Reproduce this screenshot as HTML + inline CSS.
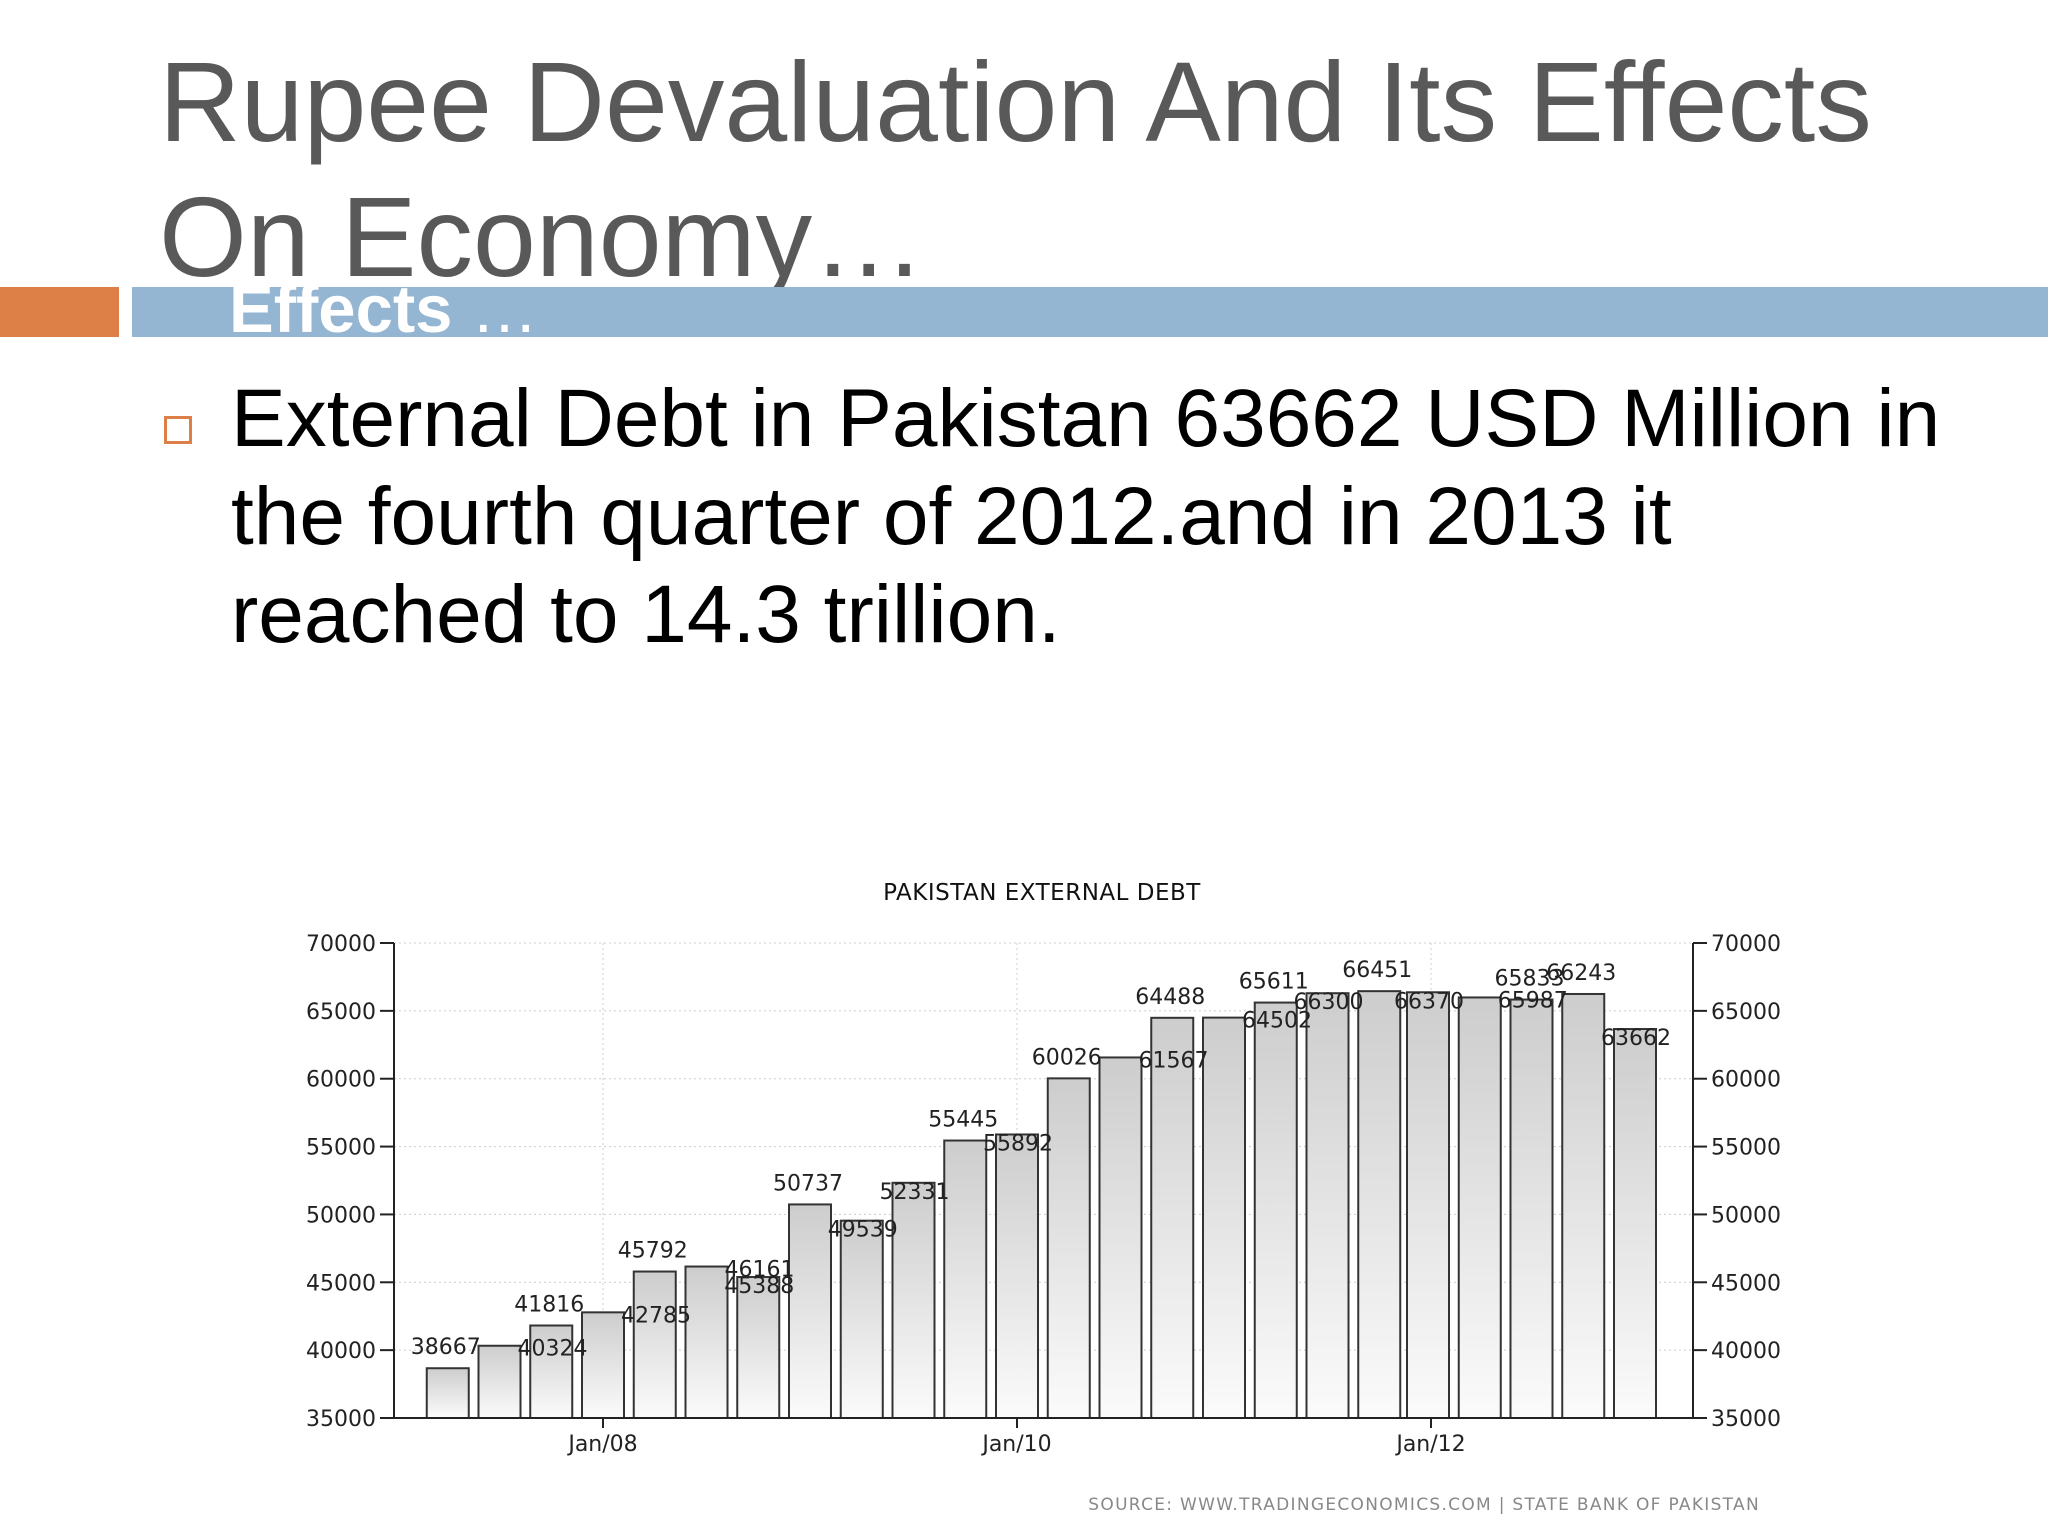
<!DOCTYPE html>
<html><head><meta charset="utf-8"><style>
body{margin:0;width:2048px;height:1536px;background:#fff;overflow:hidden;position:relative;font-family:"Liberation Sans",sans-serif}
.t{position:absolute;left:159px;color:#595959;font-size:113px;line-height:1;white-space:nowrap}
</style></head><body>
<div class="t" style="top:46px">Rupee Devaluation And Its Effects</div>
<div class="t" style="top:181px">On Economy…</div>
<div style="position:absolute;left:0;top:287px;width:119px;height:50px;background:#dd8047"></div>
<div style="position:absolute;left:132px;top:287px;width:1916px;height:50px;background:#94b6d2"></div>
<div style="position:absolute;left:229px;top:276px;color:#fff;font-weight:bold;font-size:67px;line-height:1;white-space:nowrap">Effects <span style="font-weight:normal">…</span></div>
<div style="position:absolute;left:164px;top:416px;width:28px;height:28px;border:3px solid #dd8047;box-sizing:border-box"></div>
<div style="position:absolute;left:231px;top:370px;font-size:82px;line-height:98px;color:#000;white-space:nowrap">External Debt in Pakistan 63662 USD Million in<br>the fourth quarter of 2012.and in 2013 it<br>reached to 14.3 trillion.</div>
<svg id="chart" width="2048" height="1536" style="position:absolute;left:0;top:0" font-family="DejaVu Sans, sans-serif">
<defs><linearGradient id="g" x1="0" y1="0" x2="0" y2="1"><stop offset="0" stop-color="#cdcdcd"/><stop offset="1" stop-color="#fbfbfb"/></linearGradient></defs>
</svg>
<script>
const values=[38667,40324,41816,42785,45792,46161,45388,50737,49539,52331,55445,55892,60026,61567,64488,64502,65611,66300,66451,66370,65987,65833,66243,63662];
const labelSide=["top","right","top","right","top","right","left","top","left","left","top","left","top","right","top","right","top","left","top","left","right","top","top","left"];
const yTicks=[35000,40000,45000,50000,55000,60000,65000,70000];
const xLabels=["Jan/08","Jan/10","Jan/12"];
const xLabelIdx=[3,11,19];
const svg=document.getElementById('chart');
const NS='http://www.w3.org/2000/svg';
const L=394,R=1693,T=943,B=1418;
const y=v=>B-(v-35000)/35000*(B-T);
const x=i=>603+(i-3)*51.75;
function el(tag,a,txt){const e=document.createElementNS(NS,tag);for(const k in a)e.setAttribute(k,a[k]);if(txt!=null)e.textContent=txt;svg.appendChild(e);return e;}
let e=el('text',{x:1042,y:900,'text-anchor':'middle','font-size':23,fill:'#111','letter-spacing':'0.5'},'PAKISTAN EXTERNAL DEBT');


yTicks.forEach(v=>{
  let g=el('line',{x1:L,x2:R,y1:y(v),y2:y(v),stroke:'#ccc','stroke-dasharray':'2,3'});
  
  
  el('line',{x1:L-14,x2:L,y1:y(v),y2:y(v),stroke:'#222','stroke-width':2});
  el('line',{x1:R,x2:R+14,y1:y(v),y2:y(v),stroke:'#222','stroke-width':2});
  let a=el('text',{x:L-18,y:y(v)+8,'text-anchor':'end','font-size':22,fill:'#222'},v);
  
  
  let b=el('text',{x:R+18,y:y(v)+8,'font-size':22,fill:'#222'},v);
  
  
});
xLabels.forEach((s,k)=>{
  const xx=x(xLabelIdx[k]);
  el('line',{x1:xx,x2:xx,y1:T,y2:B,stroke:'#ccc','stroke-dasharray':'2,3'});
  el('line',{x1:xx,x2:xx,y1:B,y2:B+10,stroke:'#222','stroke-width':2});
  let t=el('text',{x:xx,y:B+33,'text-anchor':'middle','font-size':22,fill:'#222'},s);
  
  
});
const cxs=values.map((v,i)=>x(i)+(i>=19?-3:0));
values.forEach((v,i)=>{
  const cx=cxs[i];
  let r=el('rect',{x:cx-21,y:y(v),width:42,height:B-y(v),fill:'url(#g)',stroke:'#333','stroke-width':2});
  
  
});
values.forEach((v,i)=>{
  const cx=cxs[i];
  let t;
  if(labelSide[i]==='top') t=el('text',{x:cx-2,y:y(v)-14,'text-anchor':'middle','font-size':22,fill:'#222'},v);
  else if(labelSide[i]==='right') t=el('text',{x:cx+18,y:y(v)+10,'font-size':22,fill:'#222'},v);
  else t=el('text',{x:cx-34,y:y(v)+16,'font-size':22,fill:'#222'},v);
  
  
});
el('line',{x1:L,x2:L,y1:T,y2:B,stroke:'#222','stroke-width':2});
el('line',{x1:R,x2:R,y1:T,y2:B,stroke:'#222','stroke-width':2});
el('line',{x1:L,x2:R,y1:B,y2:B,stroke:'#222','stroke-width':2});
let s=el('text',{x:1760,y:1510,'text-anchor':'end','font-size':17,fill:'#888','letter-spacing':'1.3'},'SOURCE:  WWW.TRADINGECONOMICS.COM  |  STATE  BANK  OF  PAKISTAN');


</script>
</body></html>
